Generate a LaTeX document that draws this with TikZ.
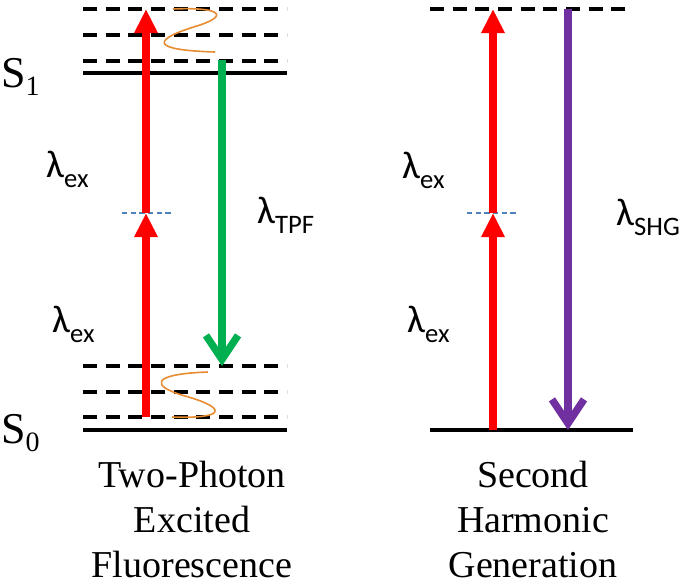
\documentclass[tikz,border=0pt]{standalone}
\usepackage{fontspec}
\setmainfont{Liberation Serif}
\newfontfamily\calfont{Carlito}
\usetikzlibrary{arrows.meta}
\definecolor{exred}{RGB}{255,0,0}
\definecolor{tpfgreen}{RGB}{0,176,80}
\definecolor{shgpurple}{RGB}{112,48,160}
\definecolor{midblue}{RGB}{79,129,189}
\definecolor{relaxorange}{RGB}{232,140,50}
\newcommand\lamsub[1]{λ\raisebox{-0.27em}{\fontsize{20}{20}\selectfont #1}}
\tikzset{
  level/.style={line width=2.4pt},
  vlevel/.style={line width=2.3pt, dash pattern=on 10.5pt off 6.5pt},
  midlevel/.style={midblue, line width=1.3pt, dash pattern=on 4pt off 2.5pt},
  exc/.style={exred, line width=5.5pt, -{Triangle[width=16.5pt,length=18pt]}},
  emis/.style={line width=5.5pt, -{Straight Barb[width=24pt,length=18pt]}},
  relax/.style={relaxorange, line width=1.2pt},
  lam/.style={anchor=base west, inner sep=0pt, font=\calfont\fontsize{29}{29}\selectfont},
  capt/.style={anchor=base, inner sep=0pt, font=\fontsize{28.5}{34}\selectfont},
  state/.style={anchor=base west, inner sep=0pt, font=\fontsize{33}{33}\selectfont},
}
\begin{document}
\begin{tikzpicture}[x=0.75pt,y=-0.75pt]
\useasboundingbox (0,0) rectangle (685,587);
% ---------- left diagram: levels
\draw[vlevel] (83,9) -- (287,9);
\draw[vlevel] (83,35) -- (287,35);
\draw[vlevel] (83,61) -- (287,61);
\draw[level]  (83,73) -- (287,73);
\draw[vlevel] (83,366) -- (287,366);
\draw[vlevel] (83,392) -- (287,392);
\draw[vlevel] (83,417) -- (287,417);
\draw[level]  (83,430) -- (287,430);
\draw[midlevel] (122,213) -- (172,213);
% relaxation curves
\draw[relax] (173,9) .. controls (215,7) and (232,14) .. (200,25)
             .. controls (150,40) and (150,50) .. (215,52);
\draw[relax] (208,372) .. controls (150,374) and (150,386) .. (185,396)
             .. controls (228,408) and (226,419) .. (172,417);
% arrows
\coordinate (lA) at (146,417);
\coordinate (lM) at (146,213);
\coordinate (lT) at (146,9);
\coordinate (gS) at (222,60);
\coordinate (gE) at (222,366);
\draw[exc] (lA) -- (lM);
\draw[exc] (lM) -- (lT);
\draw[emis, tpfgreen] (gS) -- (gE);
% labels
\node[state] (s1) at (1,87) {S\raisebox{-6.5pt}{\fontsize{21}{21}\selectfont 1}};
\node[state] (s0) at (1,443) {S\raisebox{-6.5pt}{\fontsize{21}{21}\selectfont 0}};
\node[lam] (lex1) at (46,177) {\lamsub{ex}};
\node[lam] (lex2) at (52,332) {\lamsub{ex}};
\node[lam] (ltpf) at (257,223) {\lamsub{TPF}};
\node[capt] (c1) at (192,487) {Two-Photon};
\node[capt] (c2) at (192,532) {Excited};
\node[capt] (c3) at (192,577) {Fluorescence};
% ---------- right diagram
\draw[vlevel] (430,9) -- (633,9);
\draw[level]  (430,430) -- (633,430);
\draw[midlevel] (467,213) -- (518,213);
\coordinate (rA) at (493,430);
\coordinate (rM) at (493,213);
\coordinate (rT) at (493,9);
\coordinate (pS) at (568,9);
\coordinate (pE) at (568,430);
\draw[exc] (rA) -- (rM);
\draw[exc] (rM) -- (rT);
\draw[emis, shgpurple] (pS) -- (pE);
\node[lam] (rex1) at (402,178) {\lamsub{ex}};
\node[lam] (rex2) at (407,332) {\lamsub{ex}};
\node[lam] (lshg) at (616,225) {\lamsub{SHG}};
\node[capt] (d1) at (533,487) {Second};
\node[capt] (d2) at (533,532) {Harmonic};
\node[capt] (d3) at (533,577) {Generation};
\end{tikzpicture}
\end{document}
